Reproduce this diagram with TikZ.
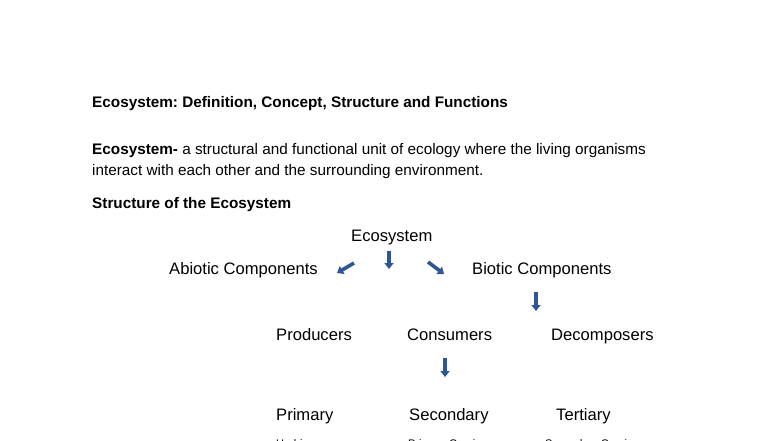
\documentclass[tikz,border=0pt]{standalone}
\usepackage{fontspec}
\setmainfont{Liberation Sans}
\usetikzlibrary{arrows.meta}
\definecolor{arrowblue}{RGB}{47,85,151}
\frenchspacing

\tikzset{
  txt/.style={anchor=base west,inner sep=0pt,font=\fontsize{15.3}{21}\selectfont},
  headtxt/.style={txt,font=\fontsize{15.3}{21}\selectfont\bfseries},
  comptxt/.style={anchor=base west,inner sep=0pt,font=\fontsize{16.6}{21}\selectfont},
  smalltxt/.style={anchor=base west,inner sep=0pt,font=\fontsize{11}{13}\selectfont},
  blockarrow/.style={draw=arrowblue,line width=3.6pt,-{Triangle[width=9pt,length=6pt]}}
}

\begin{document}
\begin{tikzpicture}[x=1pt,y=-1pt]
\useasboundingbox (0,0) rectangle (784,441);

% heading and definition
\node[headtxt] (title) at (92,107.5) {Ecosystem: Definition, Concept, Structure and Functions};
\node[txt] (defa) at (92,154.5) {\textbf{Ecosystem-} a structural and functional unit of ecology where the living organisms};
\node[txt] (defb) at (92,175.5) {interact with each other and the surrounding environment.};
\node[headtxt] (struct) at (92,208.5) {Structure of the Ecosystem};

% the tree
\node[comptxt] (eco) at (351,241.5) {Ecosystem};
\node[comptxt] (abiotic) at (169,274.5) {Abiotic Components};
\node[comptxt] (biotic) at (472,274.5) {Biotic Components};

\node[comptxt] (prod) at (276,340.5) {Producers};
\node[comptxt] (cons) at (407,340.5) {Consumers};
\node[comptxt] (decomp) at (551,340.5) {Decomposers};

\node[comptxt] (prim) at (276,420.5) {Primary};
\node[comptxt] (sec) at (409,420.5) {Secondary};
\node[comptxt] (tert) at (556,420.5) {Tertiary};

\node[smalltxt] (herb) at (276,447) {Herbivores};
\node[smalltxt] (pcarn) at (408,447) {Primary Carnivores};
\node[smalltxt] (scarn) at (545,447) {Secondary Carnivores};

% block arrows
\coordinate (ecoL) at (354,263);  \coordinate (abL) at (337,273);
\coordinate (ecoM) at (389,251);  \coordinate (ecoMend) at (389,269);
\coordinate (ecoR) at (428,262);  \coordinate (bioR) at (444,274);
\coordinate (bioD) at (536,292);  \coordinate (bioDend) at (536,311);
\coordinate (conD) at (445,358);  \coordinate (conDend) at (445,377);

\draw[blockarrow] (ecoL) -- (abL);
\draw[blockarrow] (ecoM) -- (ecoMend);
\draw[blockarrow] (ecoR) -- (bioR);
\draw[blockarrow] (bioD) -- (bioDend);
\draw[blockarrow] (conD) -- (conDend);
\end{tikzpicture}
\end{document}
